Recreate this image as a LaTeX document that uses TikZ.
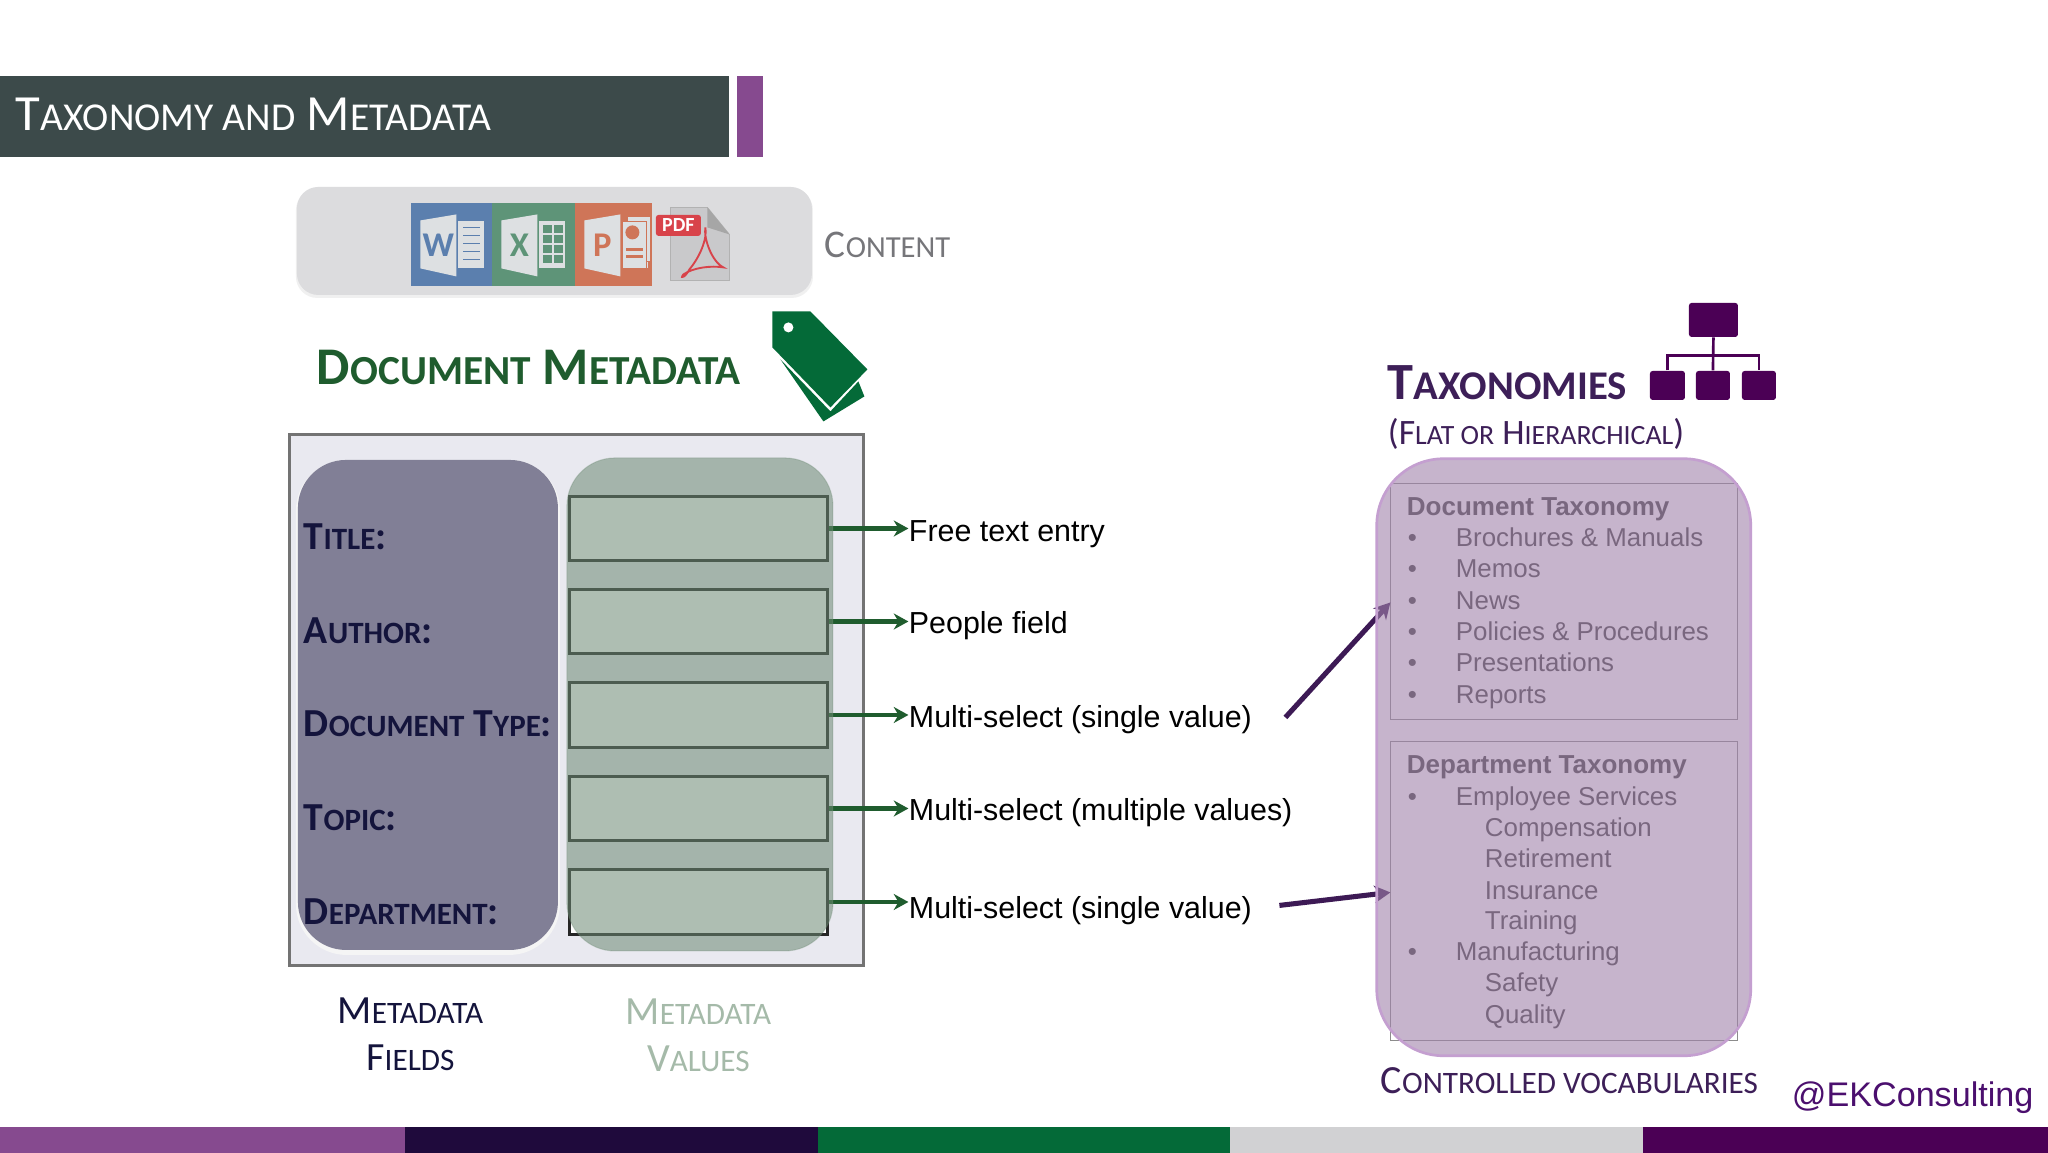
\documentclass[tikz,border=0pt]{standalone}
\usepackage{fontspec}
\setmainfont{Carlito}
\newfontfamily\arialf{Liberation Sans}
\usetikzlibrary{arrows.meta}
\newcommand\U{0.375pt}
\makeatletter
\newcommand\lc[1]{{\fontsize{\the\dimexpr0.78\dimexpr\f@size pt\relax\relax}{0pt}\selectfont #1}}
\makeatother
\newcommand\RB[6][]{\node[#1,anchor=north west,inner sep=0pt,minimum width={(#5-#3)*\U},minimum height={(#6-#4)*\U}] (#2) at (#3,#4) {};}
\newcommand\fs[1]{\fontsize{#1}{#1}\selectfont}
\definecolor{barslate}{HTML}{3C4A4A}
\definecolor{ekpurple}{HTML}{864A8F}
\definecolor{eknavy}{HTML}{1F0A3C}
\definecolor{ekgreen}{HTML}{046A38}
\definecolor{ekgray}{HTML}{D1D1D3}
\definecolor{ekplum}{HTML}{4B0055}
\definecolor{contentgray}{HTML}{DCDCDE}
\definecolor{labelgray}{HTML}{76767A}
\definecolor{titlegreen}{HTML}{1F5C2E}
\definecolor{framefill}{HTML}{E9E9F0}
\definecolor{fieldpanel}{HTML}{817F96}
\definecolor{fieldtext}{HTML}{14143C}
\definecolor{valpanel}{RGB}{109,138,115}
\definecolor{valtext}{HTML}{A5BAA9}
\definecolor{taxpanel}{RGB}{160,130,170}
\definecolor{taxedge}{HTML}{C49FD0}
\definecolor{taxtext}{HTML}{3D1F58}
\definecolor{arrowplum}{HTML}{3D1A55}
\definecolor{handle}{HTML}{4B0F6E}
\definecolor{wordblue}{HTML}{5B7FAE}
\definecolor{xlgreen}{HTML}{5E9478}
\definecolor{pptred}{HTML}{CF7558}
\definecolor{pagelight}{HTML}{DDE0E2}
\definecolor{pdfred}{HTML}{D8434A}
\definecolor{pdfgray}{HTML}{C9C9CB}
\tikzset{
  x=\U,y=-\U,
  seg/.style={fill=#1,draw=none},
  fieldlbl/.style={anchor=west,inner sep=0pt,text=fieldtext,font=\bfseries\fs{14.9}},
  typelbl/.style={anchor=west,inner sep=0pt,text=black,font=\arialf\fs{11.4},text height=8pt,text depth=0pt},
  valbox/.style={draw=black!85,line width=0.8pt,fill=white},
  greenarrow/.style={draw=titlegreen,line width=1.7pt,-{Stealth[length=5.5pt,width=6pt]}},
  plumarrow/.style={draw=arrowplum,line width=1.9pt,-{Stealth[length=6pt,width=6.5pt]}},
  taxbox/.style={draw=black!45,line width=0.4pt,fill=white},
  taxhead/.style={anchor=west,inner sep=0pt,text=black!75,font=\arialf\bfseries\fs{9.75},text height=7pt,text depth=0pt},
  taxitem/.style={anchor=west,inner sep=0pt,text=black!75,font=\arialf\fs{9.7},text height=7pt,text depth=0pt},
  orgbox/.style={fill=ekplum,draw=none,rounded corners=1pt},
  orgline/.style={draw=ekplum,line width=1pt},
  capt/.style={anchor=center,inner sep=0pt},
}
\begin{document}
\begin{tikzpicture}
\useasboundingbox (0.6,0.6) rectangle (2048.6,1152.6);
\fill[white] (-5,-5) rectangle (2055,1160);
% title
\RB[seg=barslate]{titlebar}{-5}{76}{729}{157}
\RB[seg=ekpurple]{titletick}{737}{76}{763}{157}
\node[anchor=west,inner sep=0pt,text=white,font=\fs{19}] (title) at (16,115) {T\lc{AXONOMY AND} M\lc{ETADATA}};
% bottom bar
\RB[seg=ekpurple]{b1}{-5}{1127}{405}{1160}
\RB[seg=eknavy]{b2}{405}{1127}{818}{1160}
\RB[seg=ekgreen]{b3}{818}{1127}{1230}{1160}
\RB[seg=ekgray]{b4}{1230}{1127}{1643}{1160}
\RB[seg=ekplum]{b5}{1643}{1127}{2055}{1160}
% content
\RB[fill=black!6,rounded corners=8pt]{contentshadow}{296}{189}{813}{298}
\RB[fill=contentgray,rounded corners=8pt]{contentbox}{297}{187}{812}{295}
\fill[wordblue] (412,204) rectangle (493,287);
\fill[xlgreen] (493,204) rectangle (576,287);
\fill[pptred] (576,204) rectangle (653,287);
\foreach \dx/\ltr/\col in {0/W/wordblue,81/X/xlgreen,164/P/pptred}{
  \begin{scope}[xshift=\dx*\U]
    \fill[pagelight] (421,221) -- (457,215) -- (457,277) -- (421,269) -- cycle;
    \fill[pagelight] (459,222) rectangle (485,269);
    \node[inner sep=0pt,text=\col,font=\bfseries\fs{13}] at (439,246) {\ltr};
  \end{scope}}
\foreach \yy in {228,236,244,252,260}{\draw[wordblue,line width=0.6pt] (464,\yy) -- (481,\yy);}
\foreach \yy in {226,236,246,256}{
  \fill[xlgreen] (544,\yy) rectangle (553,\yy+8);
  \fill[xlgreen] (555,\yy) rectangle (564,\yy+8);}
\draw[pptred,line width=0.5pt,fill=pagelight] (628,217) rectangle (651,262);
\draw[pptred,line width=0.5pt,fill=pagelight] (623,222) rectangle (647,269);
\fill[pptred] (633,233) circle (7);
\foreach \yy in {250,257}{\draw[pptred,line width=0.9pt] (627,\yy) -- (644,\yy);}
% pdf
\fill[pdfgray,draw=black!30,line width=0.3pt] (671,208) -- (708,208) -- (730,235) -- (730,281) -- (671,281) -- cycle;
\fill[black!35] (708,208) -- (730,235) -- (708,228) -- cycle;
\draw[pdfred,line width=0.7pt] (690,270) .. controls (700,258) and (708,240) .. (706,228) .. controls (704,238) and (712,262) .. (724,268) .. controls (712,266) and (694,268) .. (684,275) .. controls (680,280) and (686,278) .. (690,270);
\node[fill=pdfred,text=white,inner sep=0pt,minimum width=45*\U,minimum height=21*\U,rounded corners=1pt,font=\bfseries\fs{7.5}] (pdflabel) at (679,226) {PDF};
\node[anchor=west,inner sep=0pt,text=labelgray,font=\fs{14.7}] (contentlbl) at (825,246) {C\lc{ONTENT}};
% doc metadata heading
\node[anchor=west,inner sep=0pt,text=titlegreen,font=\bfseries\fs{19.85}] (docmeta) at (317,368) {D\lc{OCUMENT} M\lc{ETADATA}};
% tag
\fill[ekgreen] (781,360) -- (824,422) -- (865,397) -- (859,382) -- (831,412) -- cycle;
\fill[ekgreen] (773,312) -- (811,312) -- (868,370) -- (831,408) -- (773,348) -- cycle;
\fill[white] (789,328) circle (5);
% form
\RB[draw=black!55,line width=0.8pt,fill=framefill]{frame}{289}{434}{863}{965}
\RB[fill=black!4,rounded corners=19pt]{fieldhalo}{296}{460}{560}{955}
\RB[fill=fieldpanel,rounded corners=18pt]{fieldpanel}{298}{460}{558}{950}
\RB[valbox]{v1}{569}{496}{827}{560}
\RB[valbox]{v2}{569}{589}{827}{653}
\RB[valbox]{v3}{569}{682}{827}{747}
\RB[valbox]{v4}{569}{776}{827}{840}
\RB[valbox]{v5}{569}{869}{827}{934}
\node[typelbl] (t1) at (909,531) {Free text entry};
\node[typelbl] (t2) at (909,623) {People field};
\node[typelbl] (t3) at (909,717) {Multi-select (single value)};
\node[typelbl] (t4) at (909,810) {Multi-select (multiple values)};
\node[typelbl] (t5) at (909,908) {Multi-select (single value)};
\foreach \i in {1,...,5}{\draw[greenarrow] (v\i.east) -- (v\i.east -| t\i.west);}
\RB[fill=valpanel,fill opacity=0.55,draw=valpanel,draw opacity=0.3,rounded corners=18pt]{valuepanel}{567}{458}{833}{951}
\node[fieldlbl] (f1) at (304,537) {T\lc{ITLE}:};
\node[fieldlbl] (f2) at (304,631) {A\lc{UTHOR}:};
\node[fieldlbl] (f3) at (304,724) {D\lc{OCUMENT} T\lc{YPE}:};
\node[fieldlbl] (f4) at (304,818) {T\lc{OPIC}:};
\node[fieldlbl] (f5) at (304,912) {D\lc{EPARTMENT}:};
\node[capt,text=fieldtext,font=\fs{15}] (mf1) at (411,1011) {M\lc{ETADATA}};
\node[capt,text=fieldtext,font=\fs{15}] (mf2) at (411,1058) {F\lc{IELDS}};
\node[capt,text=valtext,font=\fs{15}] (mv1) at (699,1012) {M\lc{ETADATA}};
\node[capt,text=valtext,font=\fs{15}] (mv2) at (699,1059) {V\lc{ALUES}};
% taxonomy side
\RB[taxbox]{doctax}{1391}{484}{1738}{720}
\RB[taxbox]{deptax}{1391}{742}{1738}{1041}
\coordinate (a1s) at (1286,718);
\coordinate (a1e) at (1391,603);
\coordinate (a2s) at (1280,906);
\coordinate (a2e) at (1391,893);
\draw[plumarrow] (a1s) -- (a1e);
\draw[plumarrow] (a2s) -- (a2e);
\node[taxhead] (d0) at (1407,507) {Document Taxonomy};
\foreach \n/\yy/\txt in {1/538/Brochures \& Manuals,2/569/Memos,3/601/News,4/632/Policies \& Procedures,5/663/Presentations,6/695/Reports}{
  \node[taxitem] (db\n) at (1408,\yy) {•};
  \node[taxitem] (d\n) at (1456,\yy) {\txt};}
\node[taxhead] (e0) at (1407,765) {Department Taxonomy};
\node[taxitem] (eb1) at (1408,797) {•};
\node[taxitem] (e1) at (1456,797) {Employee Services};
\node[taxitem] (e2) at (1485,828) {Compensation};
\node[taxitem] (e3) at (1485,859) {Retirement};
\node[taxitem] (e4) at (1485,891) {Insurance};
\node[taxitem] (e5) at (1485,921) {Training};
\node[taxitem] (eb6) at (1408,952) {•};
\node[taxitem] (e6) at (1456,952) {Manufacturing};
\node[taxitem] (e7) at (1485,983) {Safety};
\node[taxitem] (e8) at (1485,1015) {Quality};
\RB[fill=taxpanel,fill opacity=0.6,draw=taxedge,line width=1pt,rounded corners=25pt]{taxpanelnode}{1376}{458}{1750}{1055}
\node[anchor=west,inner sep=0pt,text=taxtext,font=\bfseries\fs{19.6}] (taxhd) at (1388,383) {T\lc{AXONOMIES}};
\node[anchor=west,inner sep=0pt,text=taxtext,font=\fs{13.4}] (flat) at (1388,434) {(F\lc{LAT OR} H\lc{IERARCHICAL})};
\node[anchor=center,inner sep=0pt,text=taxtext,font=\fs{15}] (ctrl) at (1570,1081) {C\lc{ONTROLLED VOCABULARIES}};
\node[anchor=west,inner sep=0pt,text=handle,font=\arialf\fs{12.8}] (handle) at (1792,1098) {@EKConsulting};
% org icon
\RB[orgbox]{root}{1689}{303}{1738}{337}
\RB[orgbox]{c1}{1650}{371}{1685}{400}
\RB[orgbox]{c2}{1696}{371}{1730}{400}
\RB[orgbox]{c3}{1742}{371}{1776}{400}
\coordinate (bus) at (1713,356);
\draw[orgline] (root.south) -- (c2.north);
\draw[orgline] (c1.north) |- (bus) -| (c3.north);
\end{tikzpicture}
\end{document}
